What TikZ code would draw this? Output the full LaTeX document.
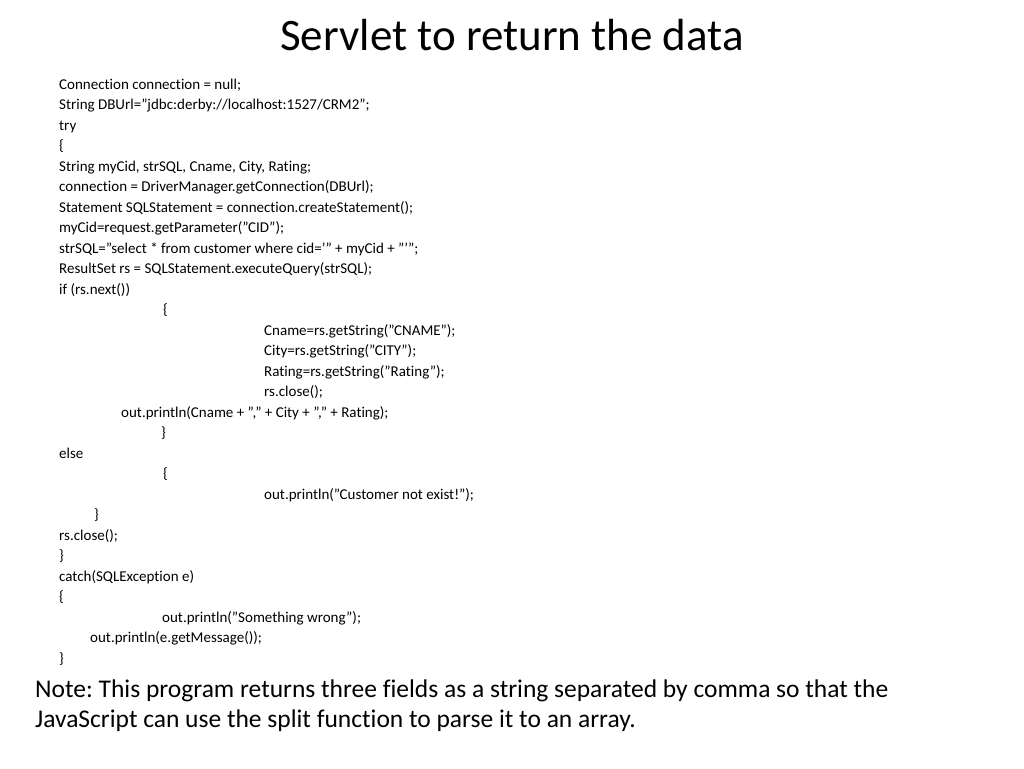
\documentclass[tikz,border=0pt]{standalone}
\usepackage{fontspec}
\setmainfont{Carlito}[Ligatures={ResetAll,NoCommon}]
\frenchspacing
\begin{document}
\begin{tikzpicture}[x=1pt,y=-1pt,code/.style={anchor=base west,inner sep=0pt,font=\fontsize{15}{18}\selectfont}]
\useasboundingbox (0,0) rectangle (1024,768);
\node[anchor=base,inner sep=0pt,font=\fontsize{45}{54}\selectfont] (title) at (512,50) {Servlet to return the data};
\def\L#1#2#3{\node[code] (c#1) at (#2,{89+20.5*(#1-1)}) {#3};}
\L{1}{59}{Connection connection = null;}
\L{2}{59}{String DBUrl="jdbc:derby://localhost:1527/CRM2";}
\L{3}{59}{try}
\L{4}{59}{\{}
\L{5}{59}{String myCid, strSQL, Cname, City, Rating;}
\L{6}{59}{connection = DriverManager.getConnection(DBUrl);}
\L{7}{59}{Statement SQLStatement = connection.createStatement();}
\L{8}{59}{myCid=request.getParameter("CID");}
\L{9}{59}{strSQL="select * from customer where cid='" + myCid + "'";}
\L{10}{59}{ResultSet rs = SQLStatement.executeQuery(strSQL);}
\L{11}{59}{if (rs.next())}
\L{12}{163}{\{}
\L{13}{264}{Cname=rs.getString("CNAME");}
\L{14}{264}{City=rs.getString("CITY");}
\L{15}{264}{Rating=rs.getString("Rating");}
\L{16}{264}{rs.close();}
\L{17}{121}{out.println(Cname + "," + City + "," + Rating);}
\L{18}{161}{\}}
\L{19}{59}{else}
\L{20}{163}{\{}
\L{21}{264}{out.println("Customer not exist!");}
\L{22}{94}{\}}
\L{23}{59}{rs.close();}
\L{24}{59}{\}}
\L{25}{59}{catch(SQLException e)}
\L{26}{59}{\{}
\L{27}{162}{out.println("Something wrong");}
\L{28}{90}{out.println(e.getMessage());}
\L{29}{59}{\}}
\node[anchor=base west,inner sep=0pt,font=\fontsize{25.5}{30}\selectfont] (n1) at (35,697) {Note: This program returns three fields as a string separated by comma so that the};
\node[anchor=base west,inner sep=0pt,font=\fontsize{25.5}{30}\selectfont] (n2) at (35,727) {JavaScript can use the split function to parse it to an array.};
\end{tikzpicture}
\end{document}
